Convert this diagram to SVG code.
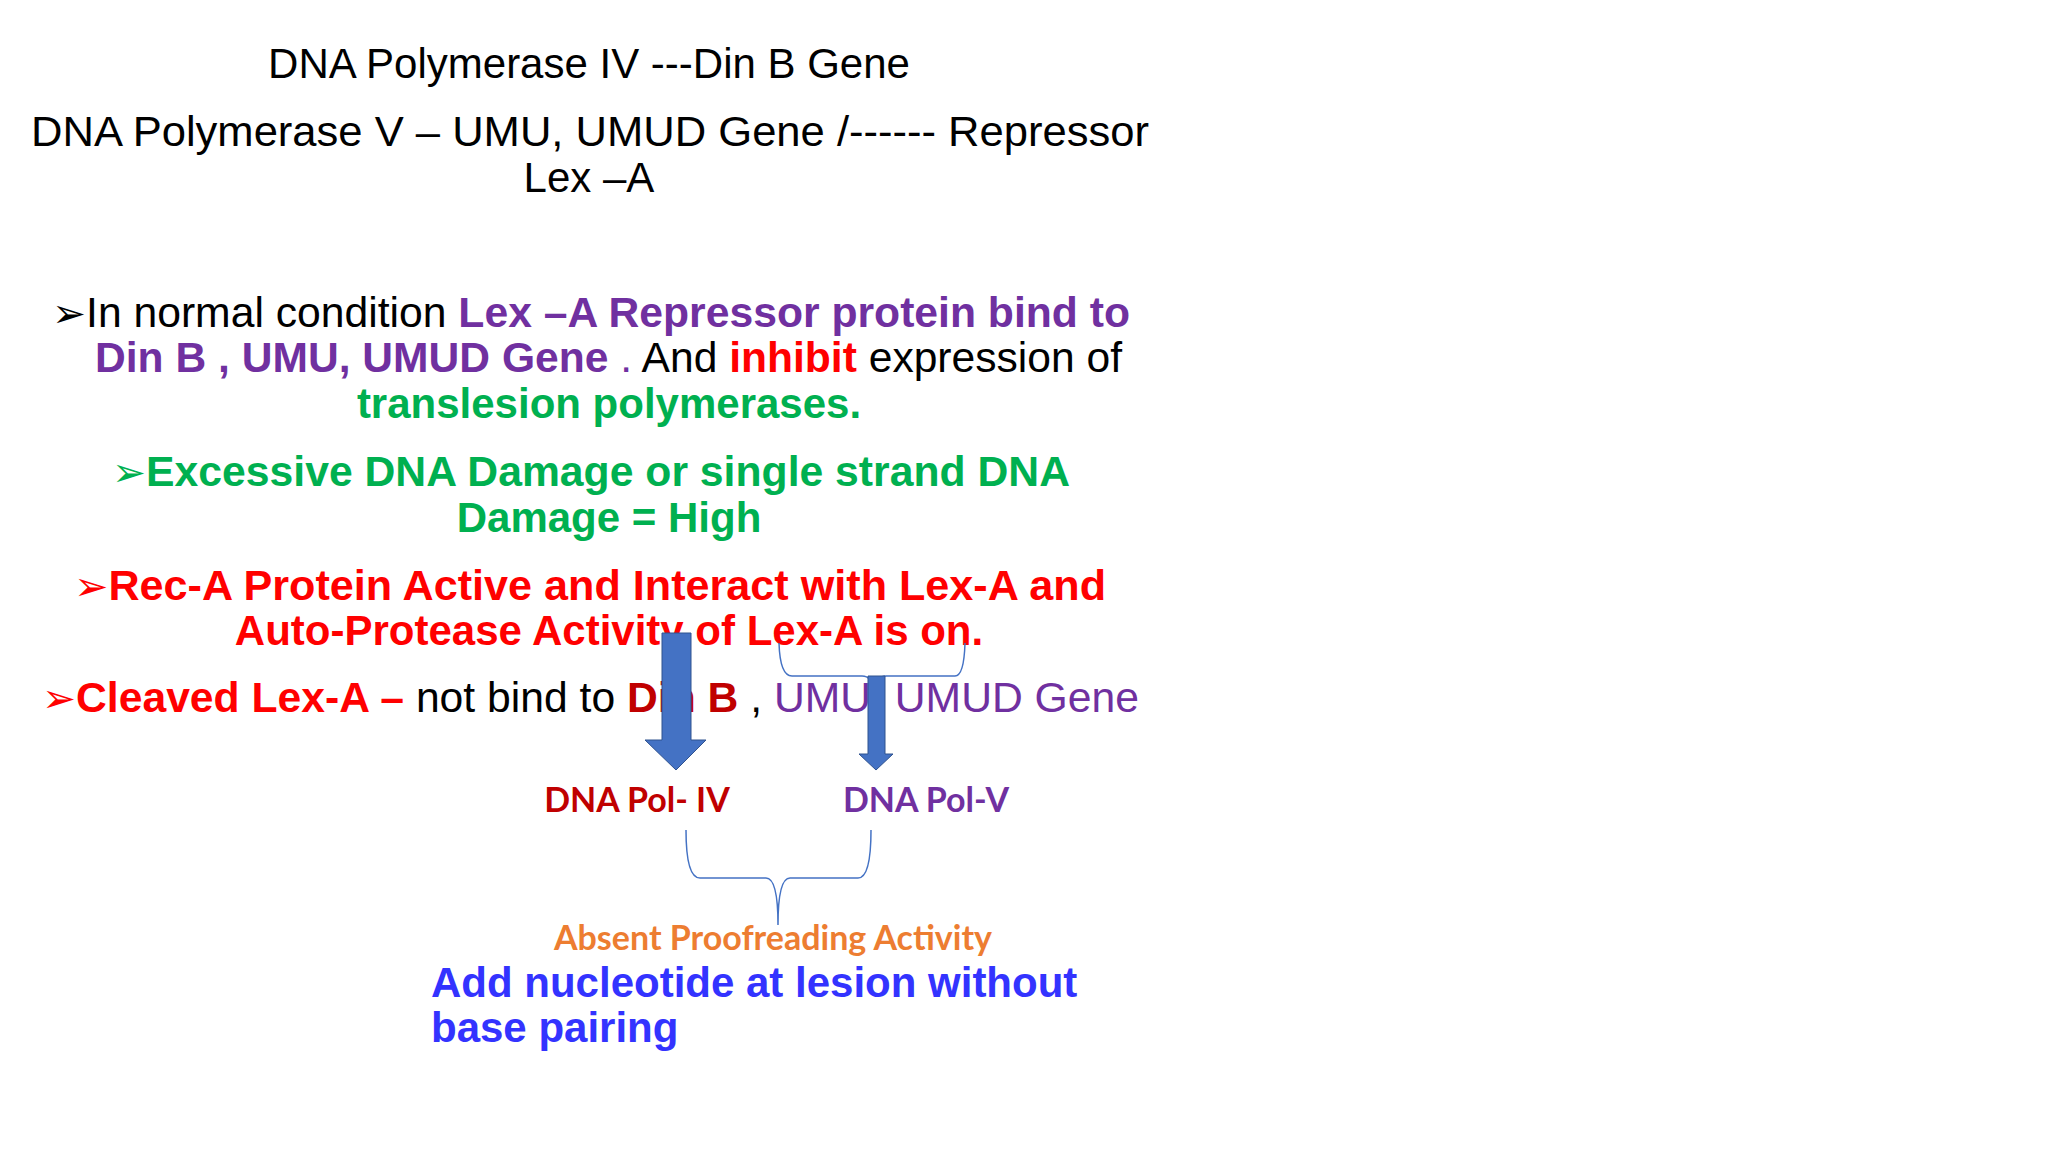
<svg xmlns="http://www.w3.org/2000/svg" width="2048" height="1152" viewBox="0 0 2048 1152" xml:space="preserve">
<style>
text{font-family:"Liberation Sans",Arial,sans-serif;font-size:42px}
.t{font-size:42px;fill:#000}
.b{font-weight:bold}
.bl{font-family:"DejaVu Sans",sans-serif;font-size:40px}
.p{fill:#7030a0}.r{fill:#ff0000}.dr{fill:#c00000}.g{fill:#00b050}.k{fill:#000}
.cal{font-family:Lato,"Open Sans",sans-serif;font-weight:bold;font-size:34px}
.br{fill:none;stroke:#4472c4;stroke-width:1.5}
.ar{fill:#4472c4;stroke:#2f528f;stroke-width:1}
</style>
<rect width="2048" height="1152" fill="#ffffff"/>
<g id="title">
<text class="t" x="589" y="78" text-anchor="middle">DNA Polymerase IV ---Din B Gene</text>
<text class="t" x="31" y="146" textLength="1118" lengthAdjust="spacingAndGlyphs">DNA Polymerase V – UMU, UMUD Gene   /------ Repressor</text>
<text class="t" x="589" y="192" text-anchor="middle">Lex –A</text>
</g>
<g id="bullet1">
<text x="52" y="327" textLength="1078" lengthAdjust="spacingAndGlyphs"><tspan class="bl k">➢</tspan><tspan class="k">In normal condition </tspan><tspan class="b p">Lex –A Repressor protein bind to</tspan></text>
<text x="95" y="372" textLength="1027" lengthAdjust="spacingAndGlyphs"><tspan class="b p">Din B , UMU, UMUD Gene</tspan><tspan class="p"> . </tspan><tspan class="k">And </tspan><tspan class="b r">inhibit</tspan><tspan class="k"> expression of</tspan></text>
<text class="b g" x="609" y="418" text-anchor="middle">translesion polymerases.</text>
</g>
<g id="bullet2">
<text x="112" y="486" textLength="958" lengthAdjust="spacingAndGlyphs"><tspan class="bl g">➢</tspan><tspan class="b g">Excessive DNA Damage or single strand DNA</tspan></text>
<text class="b g" x="609" y="532" text-anchor="middle">Damage = High</text>
</g>
<g id="bullet3">
<text x="74" y="600" textLength="1032" lengthAdjust="spacingAndGlyphs"><tspan class="bl r">➢</tspan><tspan class="b r">Rec-A Protein Active and Interact with Lex-A  and</tspan></text>
<text class="b r" x="609" y="645" text-anchor="middle">Auto-Protease Activity of Lex-A is on.</text>
</g>
<g id="bullet4">
<text x="42" y="712" textLength="1097" lengthAdjust="spacingAndGlyphs"><tspan class="bl r">➢</tspan><tspan class="b r">Cleaved Lex-A – </tspan><tspan class="k">not bind to </tspan><tspan class="b dr">Din B</tspan><tspan class="k"> , </tspan><tspan class="p">UMU, UMUD Gene</tspan></text>
</g>
<g id="connectors">
<path class="br" d="M779 643 Q780 676 792 676 L862 676 Q872 676 874 690 Q876 676 886 676 L955 676 Q964 676 965 643"/>
<path class="br" d="M686 830 Q686 878 700 878 L766 878 Q778 878 778 925 Q778 878 790 878 L858 878 Q871 878 871 830"/>
<path class="ar" d="M662 633 L691 633 L691 740 L706 740 L676 770 L645 740 L662 740 Z"/>
<path class="ar" d="M868 676 L885 676 L885 754 L893 754 L876 770 L859 754 L868 754 Z"/>
</g>
<g id="pol4"><text class="cal dr" x="637" y="812" text-anchor="middle">DNA Pol- IV</text></g>
<g id="pol5"><text class="cal p" x="926" y="812" text-anchor="middle">DNA Pol-V</text></g>
<g id="absent"><text class="cal" x="773" y="950" text-anchor="middle" fill="#ed7d31" font-size="36">Absent Proofreading Activity</text></g>
<g id="add">
<text class="b" x="431" y="997" fill="#3333ff" font-size="37">Add nucleotide at lesion without</text>
<text class="b" x="431" y="1042" fill="#3333ff" font-size="37">base pairing</text>
</g>
</svg>
